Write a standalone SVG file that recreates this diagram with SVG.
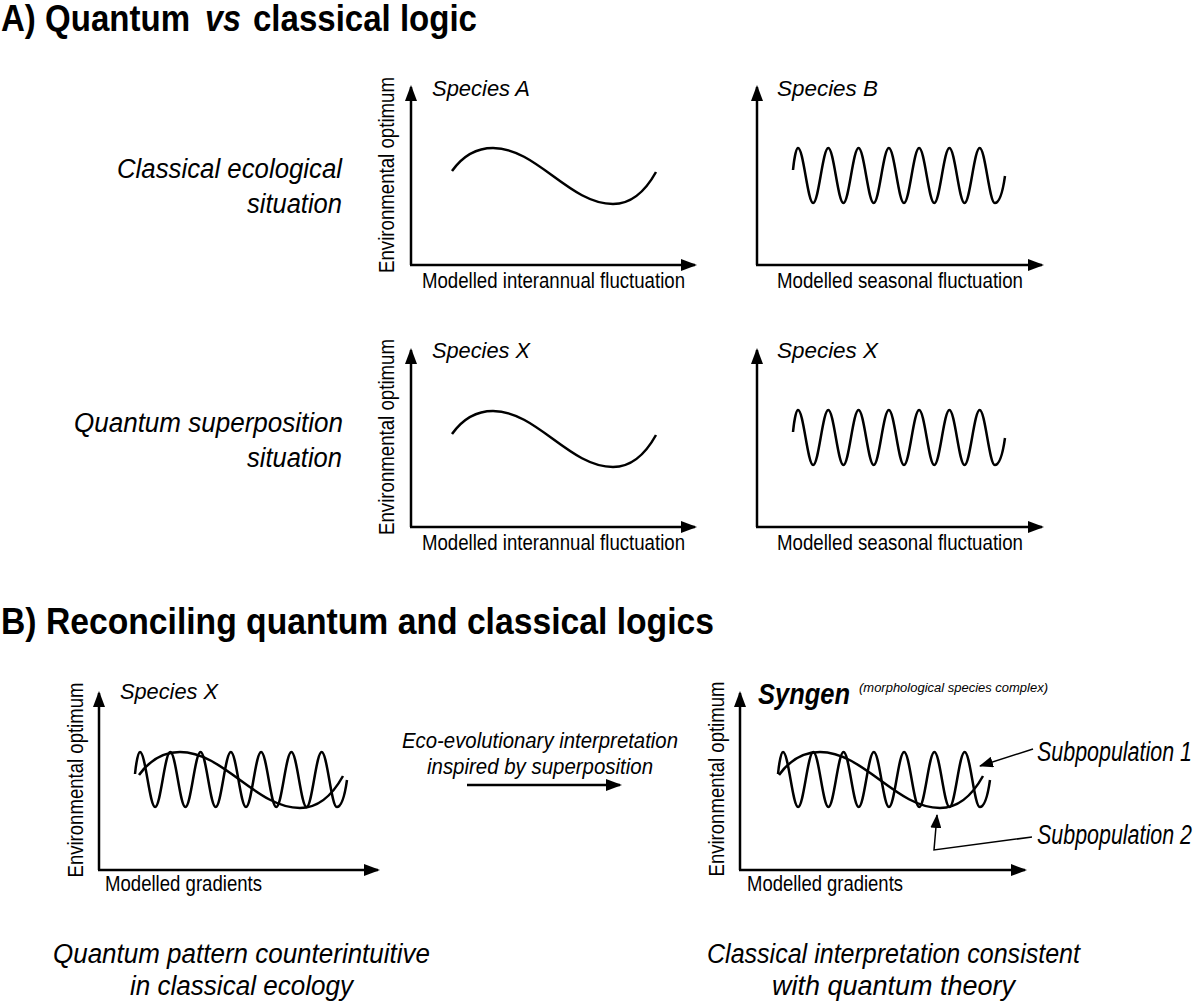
<svg xmlns="http://www.w3.org/2000/svg" width="1200" height="1005" viewBox="0 0 1200 1005">
<style>
text{font-family:"Liberation Sans Narrow","Liberation Sans",Arial,sans-serif;fill:#000}
.title{font-size:37px;font-weight:bold}
.lab{font-size:22.5px}
.sp{font-size:22.5px;font-style:italic}
.big{font-size:27px;font-style:italic}
.axis{stroke:#000;stroke-width:2.5;fill:none}
.curve{stroke:#000;stroke-width:2.5;fill:none}
.thin{stroke:#000;stroke-width:1.5;fill:none}
</style>
<defs>
<marker id="ah" markerWidth="16" markerHeight="12" refX="14" refY="6" orient="auto" markerUnits="userSpaceOnUse"><path d="M0,0 L16,6 L0,12 z" fill="#000"/></marker>
<marker id="ahs" markerWidth="14" markerHeight="11" refX="13" refY="5.5" orient="auto" markerUnits="userSpaceOnUse"><path d="M0,0 L14,5.5 L0,11 z" fill="#000"/></marker>
<path id="slow" class="curve" d="M452,171 C462,157 476,148 493,148 C536.6,148 569.4,204 613,204 C632,204 646,190 656,172"/>
<path id="fast" class="curve" d="M793,170 C794,160 796,148 798,148 C803.5,148 807.64,203 813.14,203 C818.64,203 822.78,148 828.28,148 C833.78,148 837.92,203 843.42,203 C848.92,203 853.06,148 858.56,148 C864.06,148 868.2,203 873.7,203 C879.2,203 883.34,148 888.84,148 C894.34,148 898.48,203 903.98,203 C909.48,203 913.62,148 919.12,148 C924.62,148 928.76,203 934.26,203 C939.76,203 943.9,148 949.4,148 C954.9,148 959.04,203 964.54,203 C970.04,203 974.18,148 979.68,148 C985.18,148 989.32,203 994.82,203 C1000,203 1003,190 1005,176"/>
</defs>
<rect width="1200" height="1005" fill="#fff"/>

<g id="titleA">
<text class="title" x="1" y="31" textLength="189" lengthAdjust="spacingAndGlyphs">A) Quantum</text>
<text class="title" x="205" y="31" font-style="italic" textLength="36" lengthAdjust="spacingAndGlyphs">vs</text>
<text class="title" x="253" y="31" textLength="224" lengthAdjust="spacingAndGlyphs">classical logic</text>
</g>
<g id="titleB"><text class="title" x="1" y="634" textLength="713" lengthAdjust="spacingAndGlyphs">B) Reconciling quantum and classical logics</text></g>

<g id="rowlabel1">
<text class="big" x="342" y="178" text-anchor="end" textLength="225" lengthAdjust="spacingAndGlyphs">Classical ecological</text>
<text class="big" x="342" y="213" text-anchor="end" textLength="95" lengthAdjust="spacingAndGlyphs">situation</text>
</g>
<g id="rowlabel2">
<text class="big" x="343" y="432" text-anchor="end" textLength="269" lengthAdjust="spacingAndGlyphs">Quantum superposition</text>
<text class="big" x="342" y="467" text-anchor="end" textLength="95" lengthAdjust="spacingAndGlyphs">situation</text>
</g>

<g id="panelA1">
<path class="axis" d="M411,265 V87" marker-end="url(#ah)"/>
<path class="axis" d="M410,265 H695" marker-end="url(#ah)"/>
<use href="#slow"/>
<text class="sp" x="432" y="96" textLength="98" lengthAdjust="spacingAndGlyphs">Species A</text>
<text class="lab" x="422" y="288" textLength="263" lengthAdjust="spacingAndGlyphs">Modelled interannual fluctuation</text>
<text class="lab" transform="translate(394,175) rotate(-90)" text-anchor="middle" textLength="196" lengthAdjust="spacingAndGlyphs">Environmental optimum</text>
</g>

<g id="panelA2">
<path class="axis" d="M757,265 V87" marker-end="url(#ah)"/>
<path class="axis" d="M756,265 H1042" marker-end="url(#ah)"/>
<use href="#fast"/>
<text class="sp" x="777" y="96" textLength="101" lengthAdjust="spacingAndGlyphs">Species B</text>
<text class="lab" x="777" y="288" textLength="246" lengthAdjust="spacingAndGlyphs">Modelled seasonal fluctuation</text>
</g>

<g id="panelA3">
<path class="axis" d="M411,527 V350" marker-end="url(#ah)"/>
<path class="axis" d="M410,527 H695" marker-end="url(#ah)"/>
<use href="#slow" transform="translate(0,263)"/>
<text class="sp" x="432" y="358" textLength="98" lengthAdjust="spacingAndGlyphs">Species X</text>
<text class="lab" x="422" y="550" textLength="263" lengthAdjust="spacingAndGlyphs">Modelled interannual fluctuation</text>
<text class="lab" transform="translate(394,437) rotate(-90)" text-anchor="middle" textLength="196" lengthAdjust="spacingAndGlyphs">Environmental optimum</text>
</g>

<g id="panelA4">
<path class="axis" d="M757,527 V350" marker-end="url(#ah)"/>
<path class="axis" d="M756,527 H1042" marker-end="url(#ah)"/>
<use href="#fast" transform="translate(0,262)"/>
<text class="sp" x="777" y="358" textLength="101" lengthAdjust="spacingAndGlyphs">Species X</text>
<text class="lab" x="777" y="550" textLength="246" lengthAdjust="spacingAndGlyphs">Modelled seasonal fluctuation</text>
</g>

<g id="panelB1">
<path class="axis" d="M99,870 V693" marker-end="url(#ah)"/>
<path class="axis" d="M98,870 H378" marker-end="url(#ah)"/>
<use href="#slow" transform="translate(-313,604)"/>
<use href="#fast" transform="translate(-658,604)"/>
<text class="sp" x="120" y="699" textLength="98" lengthAdjust="spacingAndGlyphs">Species X</text>
<text class="lab" x="105" y="891" textLength="157" lengthAdjust="spacingAndGlyphs">Modelled gradients</text>
<text class="lab" transform="translate(83,780) rotate(-90)" text-anchor="middle" textLength="195" lengthAdjust="spacingAndGlyphs">Environmental optimum</text>
</g>

<g id="panelB2">
<path class="axis" d="M740,870 V693" marker-end="url(#ah)"/>
<path class="axis" d="M739,870 H1025" marker-end="url(#ah)"/>
<use href="#slow" transform="translate(327,604)"/>
<use href="#fast" transform="translate(-15,604)"/>
<text x="758" y="704" font-size="29" font-weight="bold" font-style="italic" textLength="92" lengthAdjust="spacingAndGlyphs">Syngen</text>
<text x="859" y="692" font-size="12.5" font-style="italic" textLength="189" lengthAdjust="spacingAndGlyphs">(morphological species complex)</text>
<text class="lab" x="747" y="891" textLength="156" lengthAdjust="spacingAndGlyphs">Modelled gradients</text>
<text class="lab" transform="translate(724,779) rotate(-90)" text-anchor="middle" textLength="195" lengthAdjust="spacingAndGlyphs">Environmental optimum</text>
</g>

<g id="sub1"><text class="big" x="1037" y="761" textLength="155" lengthAdjust="spacingAndGlyphs">Subpopulation 1</text></g>
<g id="sub2"><text class="big" x="1037" y="844" textLength="155" lengthAdjust="spacingAndGlyphs">Subpopulation 2</text></g>

<g id="interp">
<text class="sp" x="402" y="748" textLength="276" lengthAdjust="spacingAndGlyphs">Eco-evolutionary interpretation</text>
<text class="sp" x="427" y="774" textLength="226" lengthAdjust="spacingAndGlyphs">inspired by superposition</text>
</g>

<g id="captionLeft">
<text class="big" x="53" y="963" textLength="377" lengthAdjust="spacingAndGlyphs">Quantum pattern counterintuitive</text>
<text class="big" x="130" y="995" textLength="223" lengthAdjust="spacingAndGlyphs">in classical ecology</text>
</g>
<g id="captionRight">
<text class="big" x="707" y="963" textLength="373" lengthAdjust="spacingAndGlyphs">Classical interpretation consistent</text>
<text class="big" x="772" y="995" textLength="243" lengthAdjust="spacingAndGlyphs">with quantum theory</text>
</g>

<g id="connectors">
<path class="axis" d="M467,785 H620" marker-end="url(#ah)"/>
<path class="thin" d="M1033,749 L980,766" marker-end="url(#ahs)"/>
<path class="thin" d="M1032,837 L934,850 L937,815" marker-end="url(#ahs)"/>
</g>
</svg>
